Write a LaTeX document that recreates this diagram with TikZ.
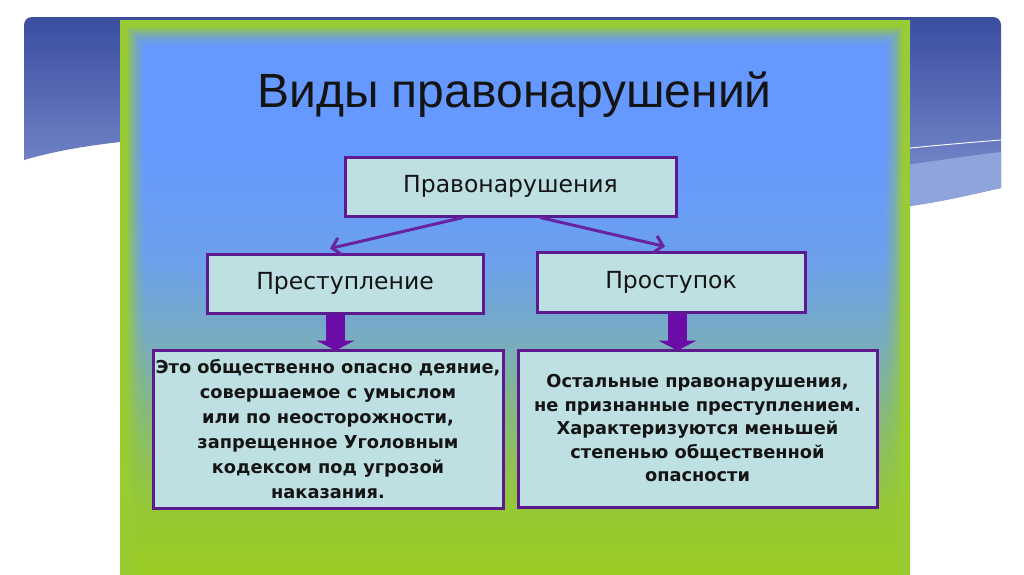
\documentclass[tikz,border=0pt]{standalone}
\usepackage{fontspec}
\setmainfont{Liberation Sans}
\newfontfamily\vfont{DejaVu Sans}
\usetikzlibrary{arrows.meta,calc}
\definecolor{pg0}{RGB}{154,203,34}
\definecolor{pg1}{RGB}{150,200,52}
\definecolor{pg2}{RGB}{138,188,112}
\definecolor{pg3}{RGB}{120,172,192}
\definecolor{pg4}{RGB}{108,160,236}
\definecolor{pg5}{RGB}{102,153,255}
\definecolor{panelgreen}{RGB}{153,204,51}
\definecolor{decotop}{RGB}{58,77,160}
\definecolor{decobot}{RGB}{128,145,208}
\definecolor{decolight}{RGB}{143,164,219}
\definecolor{boxfill}{RGB}{190,224,227}
\definecolor{boxline}{RGB}{92,26,142}
\definecolor{arrowc}{RGB}{104,36,160}
\definecolor{blockc}{RGB}{108,12,168}
\definecolor{textblack}{RGB}{20,20,20}
\pgfdeclareverticalshading{panelshade}{100bp}{color(0bp)=(pg0); color(25bp)=(pg0); color(30.8bp)=(pg1); color(38bp)=(pg2); color(46.1bp)=(pg3); color(53.3bp)=(pg4); color(63.3bp)=(pg5); color(75bp)=(pg5); color(100bp)=(pg5)}
\tikzset{
  box/.style={draw=boxline, fill=boxfill, line width=3pt, inner sep=0pt, text=textblack, align=center},
  thinarrow/.style={draw=arrowc, line width=3pt, -{Straight Barb[length=8pt,width=17pt]}},
  blockarrow/.style={draw=blockc, line width=19pt, -{Triangle[length=10pt,width=38pt]}}
}
\begin{document}
\begin{tikzpicture}[x=1pt,y=-1pt]
\useasboundingbox (0,0) rectangle (1024,574);
\clip (0,0) rectangle (1024,574);
\fill[white] (0,0) rectangle (1024,574);
% decorative swoosh
\shade[top color=decotop, bottom color=decobot]
  (24,160) -- (24,25) arc[start angle=180,end angle=270,radius=8] -- (993,17)
  arc[start angle=270,end angle=360,radius=8] -- (1001,188)
  .. controls (965,196) and (940,202) .. (910,206) -- (120,142)
  .. controls (85,146) and (55,151) .. (24,160) -- cycle;
\fill[decolight] (900,166) .. controls (940,160) and (975,155) .. (1001,152) -- (1001,188)
  .. controls (965,196) and (940,202) .. (900,207) -- cycle;
\draw[white, line width=0.9pt] (900,149) .. controls (940,145) and (975,142) .. (1001,140);
% panel
\fill[shading=panelshade] (120,20) rectangle (910,574);
\foreach \i in {0,...,22}{
  \pgfmathsetmacro\op{(1-\i/23)^2}
  \draw[draw=panelgreen, draw opacity=\op, line width=1.05pt] ({126.5+\i},{26.5+\i}) rectangle ({903.5-\i},620);
}
\draw[panelgreen, line width=6pt] (123,23) rectangle (907,640);
% title
\node[font=\fontsize{48}{52}\selectfont, text=textblack, anchor=base, inner sep=0pt] (title) at (514.5,107) {Виды правонарушений};
% boxes
\node[box, minimum width=331pt, minimum height=59pt, font=\vfont\fontsize{23.5}{28}\selectfont] (top) at (510.5,186.5) {Правонарушения};
\node[box, minimum width=276pt, minimum height=59pt, font=\vfont\fontsize{23.5}{28}\selectfont] (prest) at (345,283.5) {Преступление};
\node[box, minimum width=268pt, minimum height=60pt, font=\vfont\fontsize{23.5}{28}\selectfont] (prost) at (671,282) {Проступок};
% block arrows
\draw[blockarrow] ([xshift=-9.5pt]prest.south) -- ([xshift=-9.5pt,yshift=-36pt]prest.south);
\draw[blockarrow] ([xshift=6.5pt]prost.south) -- ([xshift=6.5pt,yshift=-37pt]prost.south);
\node[box, minimum width=350pt, minimum height=158pt, font=\vfont\bfseries\fontsize{17.8}{25}\selectfont] (lbox) at (328,429) {Это общественно опасно деяние,\\совершаемое с умыслом\\или по неосторожности,\\запрещенное Уголовным\\кодексом под угрозой\\наказания.};
\node[box, minimum width=359pt, minimum height=157pt, font=\vfont\bfseries\fontsize{17.8}{23.5}\selectfont] (rbox) at (697.5,428.5) {Остальные правонарушения,\\не признанные преступлением.\\Характеризуются меньшей\\степенью общественной\\опасности};
% thin arrows
\draw[thinarrow] ([xshift=-47.5pt]top.south) -- ([xshift=-15pt,yshift=4pt]prest.north);
\draw[thinarrow] ([xshift=29.5pt]top.south) -- ([xshift=-6pt,yshift=4pt]prost.north);
\end{tikzpicture}
\end{document}
